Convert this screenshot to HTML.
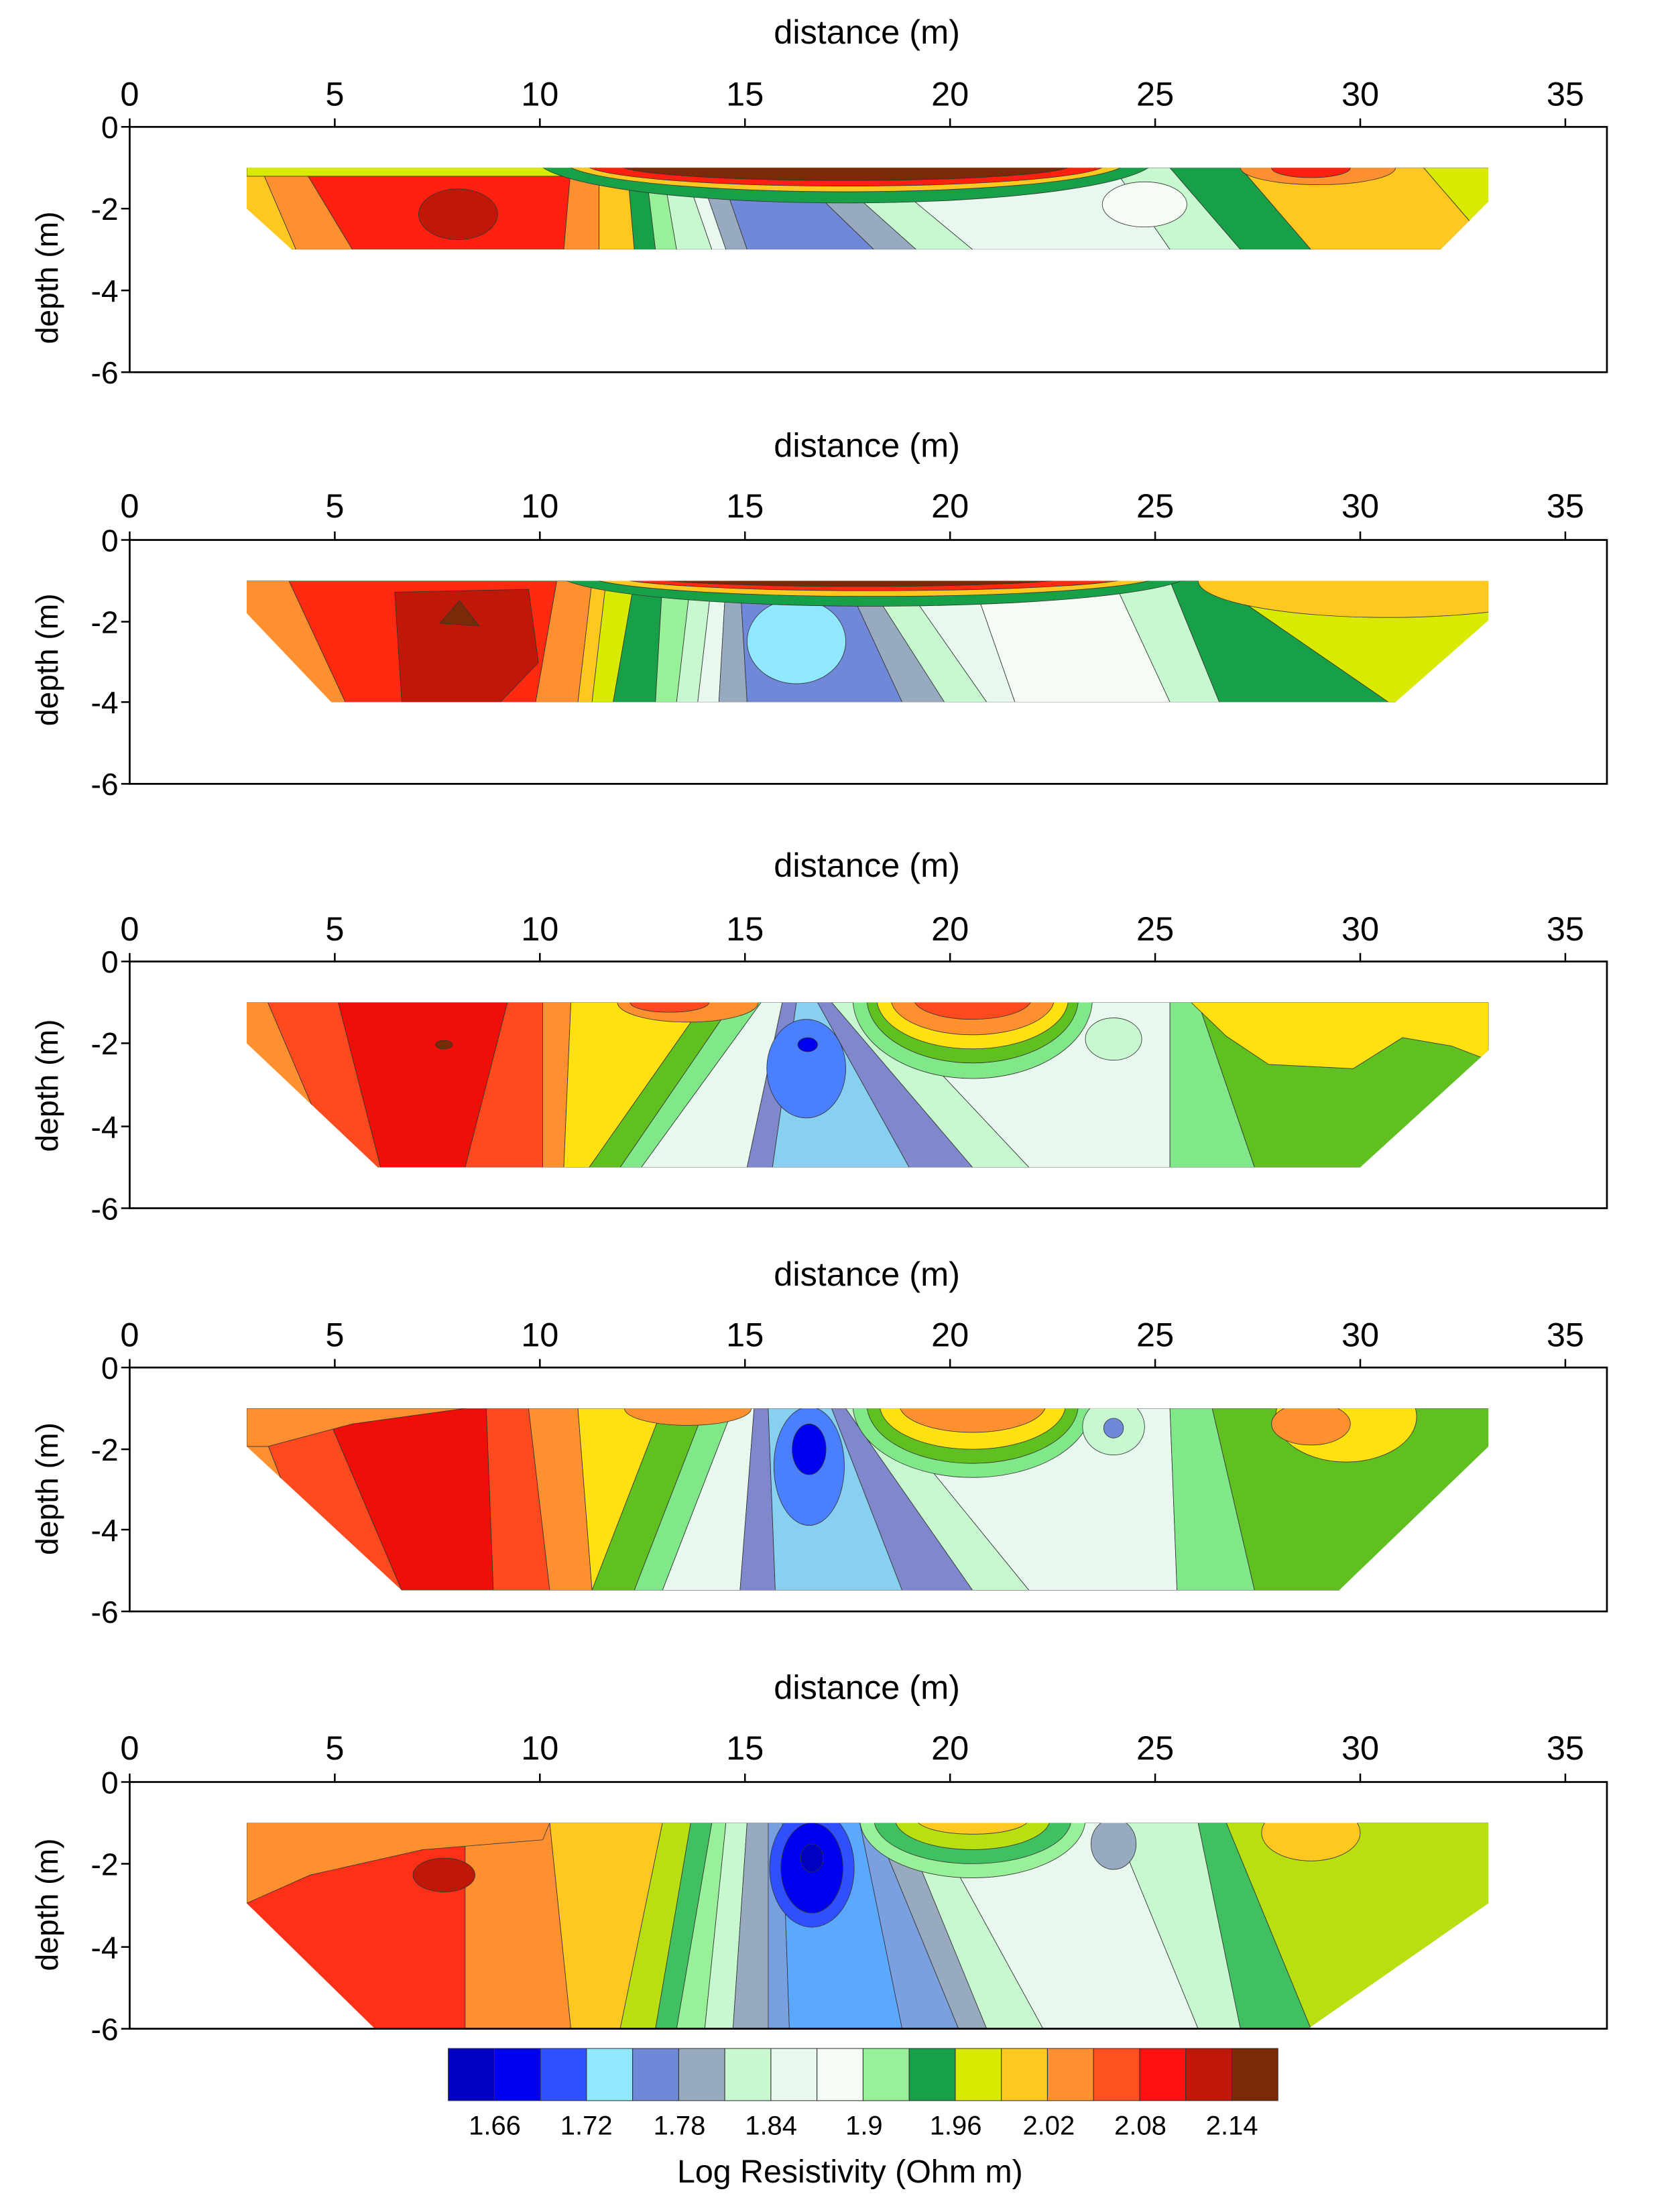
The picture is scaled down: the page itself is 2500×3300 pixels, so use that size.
<!DOCTYPE html>
<html><head><meta charset="utf-8"><style>html,body{margin:0;padding:0;background:#fff}svg{display:block}</style></head>
<body>
<svg width="2500" height="3300" viewBox="0 0 1189 1569" preserveAspectRatio="none" xmlns="http://www.w3.org/2000/svg" font-family="Liberation Sans, sans-serif">
<defs>
<clipPath id="c1"><polygon points="175,119 1056,119 1056,143 1022,177 207,177 175,148"/></clipPath>
<clipPath id="c2"><polygon points="175,412 1056,412 1056,440 990,498 235,498 175,435"/></clipPath>
<clipPath id="c3"><polygon points="175,711 1056,711 1056,745 965,828 268,828 175,740"/></clipPath>
<clipPath id="c4"><polygon points="175,999 1056,999 1056,1026 950,1128 285,1128 175,1026"/></clipPath>
<clipPath id="c5"><polygon points="175,1293 1056,1293 1056,1350 928,1439 266,1439 175,1350"/></clipPath>
</defs>
<rect width="1189" height="1569" fill="#fff"/>

<!-- Panel 1 -->
<g clip-path="url(#c1)" stroke="#333" stroke-width="0.4">
<polygon points="100,119 185,119 210,177 100,177" fill="#ffc820"/>
<polygon points="185,119 215,119 250,177 210,177" fill="#ff9030"/>
<polygon points="215,119 405,119 400,177 250,177" fill="#ff2010"/>
<polygon points="405,119 425,119 425,177 400,177" fill="#ff9030"/>
<polygon points="425,119 445,119 450,177 425,177" fill="#ffc820"/>
<polygon points="445,119 458,119 465,177 450,177" fill="#18a048"/>
<polygon points="458,119 470,119 480,177 465,177" fill="#98f098"/>
<polygon points="470,119 485,119 505,177 480,177" fill="#c8f8d0"/>
<polygon points="485,119 495,119 515,177 505,177" fill="#e8f8ee"/>
<polygon points="495,119 510,119 530,177 515,177" fill="#98aac0"/>
<polygon points="510,119 560,119 620,177 530,177" fill="#7088d8"/>
<polygon points="560,119 585,119 650,177 620,177" fill="#98aac0"/>
<polygon points="585,119 620,119 690,177 650,177" fill="#c8f8d0"/>
<polygon points="620,119 790,119 830,177 690,177" fill="#e8f8ee"/>
<polygon points="790,119 830,119 880,177 830,177" fill="#c8f8d0"/>
<polygon points="830,119 880,119 930,177 880,177" fill="#18a048"/>
<polygon points="880,119 1010,119 1060,177 930,177" fill="#ffc820"/>
<polygon points="1010,119 1100,119 1100,177 1060,177" fill="#d8ea00"/>
<rect x="175" y="117" width="260" height="8" fill="#d8ea00"/>
<ellipse cx="600" cy="112" rx="220" ry="32" fill="#18a048"/>
<ellipse cx="600" cy="114" rx="200" ry="22" fill="#ffc820"/>
<ellipse cx="600" cy="116" rx="185" ry="16" fill="#ff2010"/>
<ellipse cx="600" cy="117" rx="160" ry="11" fill="#7a2a08"/>
<ellipse cx="812" cy="145" rx="30" ry="16" fill="#f4fcf4"/>
<ellipse cx="325" cy="152" rx="28" ry="18" fill="#c01808"/>
<ellipse cx="935" cy="119" rx="55" ry="12" fill="#ff9030"/>
<ellipse cx="930" cy="119" rx="28" ry="7" fill="#ff2010"/>
</g>

<!-- Panel 2 -->
<g clip-path="url(#c2)" stroke="#333" stroke-width="0.4">
<polygon points="100,412 205,412 245,498 100,498" fill="#ff9030"/>
<polygon points="205,412 395,412 380,498 245,498" fill="#ff2a10"/>
<polygon points="395,412 420,412 410,498 380,498" fill="#ff9030"/>
<polygon points="420,412 430,412 420,498 410,498" fill="#ffc820"/>
<polygon points="430,412 450,412 435,498 420,498" fill="#d8ea00"/>
<polygon points="450,412 470,412 465,498 435,498" fill="#18a048"/>
<polygon points="470,412 490,412 480,498 465,498" fill="#98f098"/>
<polygon points="490,412 505,412 495,498 480,498" fill="#c8f8d0"/>
<polygon points="505,412 515,412 510,498 495,498" fill="#e8f8ee"/>
<polygon points="515,412 525,412 530,498 510,498" fill="#98aac0"/>
<polygon points="525,412 600,412 640,498 530,498" fill="#7088d8"/>
<polygon points="600,412 615,412 670,498 640,498" fill="#98aac0"/>
<polygon points="615,412 640,412 700,498 670,498" fill="#c8f8d0"/>
<polygon points="640,412 690,412 720,498 700,498" fill="#e8f8ee"/>
<polygon points="690,412 790,412 830,498 720,498" fill="#f4fcf4"/>
<polygon points="790,412 830,412 865,498 830,498" fill="#c8f8d0"/>
<polygon points="830,412 860,412 985,498 865,498" fill="#18a048"/>
<polygon points="860,412 1100,412 1100,498 985,498" fill="#d8ea00"/>
<ellipse cx="985" cy="412" rx="135" ry="26" fill="#ffc820"/>
<polygon points="280,420 375,418 382,470 355,498 285,498" fill="#c01808"/>
<polygon points="312,442 326,426 340,444" fill="#7a2a08"/>
<ellipse cx="565" cy="455" rx="35" ry="30" fill="#90e8ff"/>
<ellipse cx="620" cy="406" rx="225" ry="24" fill="#18a048"/>
<ellipse cx="620" cy="407" rx="205" ry="16" fill="#ffc820"/>
<ellipse cx="620" cy="408" rx="185" ry="11" fill="#ff2a10"/>
<ellipse cx="610" cy="409" rx="150" ry="7" fill="#7a2a08"/>
</g>

<!-- Panel 3 -->
<g clip-path="url(#c3)" stroke="#333" stroke-width="0.4">
<polygon points="100,711 190,711 240,828 100,828" fill="#ff9030"/>
<polygon points="190,711 240,711 270,828 240,828" fill="#ff4a20"/>
<polygon points="240,711 360,711 330,828 270,828" fill="#ee1008"/>
<polygon points="360,711 385,711 385,828 330,828" fill="#ff4a20"/>
<polygon points="385,711 405,711 400,828 385,828" fill="#ff9030"/>
<polygon points="405,711 500,711 418,828 400,828" fill="#ffe010"/>
<polygon points="500,711 520,711 440,828 418,828" fill="#60c020"/>
<polygon points="520,711 540,711 455,828 440,828" fill="#80e888"/>
<polygon points="540,711 555,711 530,828 455,828" fill="#e8f8ee"/>
<polygon points="555,711 565,711 548,828 530,828" fill="#7f88cc"/>
<polygon points="565,711 580,711 645,828 548,828" fill="#88d0f0"/>
<polygon points="580,711 590,711 690,828 645,828" fill="#7f88cc"/>
<polygon points="590,711 620,711 730,828 690,828" fill="#c8f8d0"/>
<polygon points="620,711 830,711 830,828 730,828" fill="#e8f8ee"/>
<polygon points="830,711 850,711 890,828 830,828" fill="#80e888"/>
<polygon points="850,711 1100,711 1100,828 890,828" fill="#60c020"/>
<polygon points="845,711 1056,711 1056,752 1030,742 995,736 960,758 900,755 870,735" fill="#ffe010"/>
<ellipse cx="572" cy="758" rx="28" ry="35" fill="#4a80ff"/>
<ellipse cx="573" cy="741" rx="7" ry="5" fill="#0000f0"/>
<ellipse cx="488" cy="711" rx="50" ry="14" fill="#ff9030"/>
<ellipse cx="475" cy="711" rx="28" ry="7" fill="#ff4a20"/>
<ellipse cx="690" cy="708" rx="85" ry="57" fill="#80e888"/>
<ellipse cx="690" cy="708" rx="75" ry="46" fill="#60c020"/>
<ellipse cx="690" cy="708" rx="68" ry="36" fill="#ffe010"/>
<ellipse cx="690" cy="708" rx="58" ry="26" fill="#ff9030"/>
<ellipse cx="690" cy="708" rx="42" ry="15" fill="#ff4a20"/>
<ellipse cx="790" cy="737" rx="20" ry="15" fill="#c8f8d0"/>
<ellipse cx="315" cy="741" rx="6" ry="3" fill="#7a2a08"/>
</g>

<!-- Panel 4 -->
<g clip-path="url(#c4)" stroke="#333" stroke-width="0.4">
<polygon points="100,999 180,999 230,1128 100,1128" fill="#ff9030"/>
<polygon points="180,999 230,999 285,1128 230,1128" fill="#ff4a20"/>
<polygon points="230,999 345,999 350,1128 285,1128" fill="#ee1008"/>
<polygon points="345,999 375,999 390,1128 350,1128" fill="#ff4a20"/>
<polygon points="375,999 410,999 420,1128 390,1128" fill="#ff9030"/>
<polygon points="410,999 470,999 420,1128 420,1128" fill="#ffe010"/>
<polygon points="470,999 500,999 450,1128 420,1128" fill="#60c020"/>
<polygon points="500,999 520,999 470,1128 450,1128" fill="#80e888"/>
<polygon points="520,999 535,999 525,1128 470,1128" fill="#e8f8ee"/>
<polygon points="535,999 545,999 550,1128 525,1128" fill="#7f88cc"/>
<polygon points="545,999 590,999 640,1128 550,1128" fill="#88d0f0"/>
<polygon points="590,999 600,999 690,1128 640,1128" fill="#7f88cc"/>
<polygon points="600,999 625,999 730,1128 690,1128" fill="#c8f8d0"/>
<polygon points="625,999 830,999 835,1128 730,1128" fill="#e8f8ee"/>
<polygon points="830,999 860,999 890,1128 835,1128" fill="#80e888"/>
<polygon points="860,999 1100,999 1100,1128 890,1128" fill="#60c020"/>
<polygon points="175,999 330,999 250,1010 190,1026 175,1026" fill="#ff9030"/>
<ellipse cx="955" cy="1005" rx="50" ry="32" fill="#ffe010"/>
<ellipse cx="930" cy="1010" rx="28" ry="15" fill="#ff9030"/>
<ellipse cx="574" cy="1040" rx="25" ry="42" fill="#4a80ff"/>
<ellipse cx="574" cy="1028" rx="12" ry="18" fill="#0000f0"/>
<ellipse cx="488" cy="999" rx="45" ry="12" fill="#ff9030"/>
<ellipse cx="690" cy="996" rx="85" ry="52" fill="#80e888"/>
<ellipse cx="690" cy="996" rx="75" ry="42" fill="#60c020"/>
<ellipse cx="690" cy="996" rx="66" ry="32" fill="#ffe010"/>
<ellipse cx="690" cy="996" rx="52" ry="20" fill="#ff9030"/>
<ellipse cx="790" cy="1012" rx="22" ry="20" fill="#c8f8d0"/>
<ellipse cx="790" cy="1013" rx="7" ry="7" fill="#7088d8"/>
</g>

<!-- Panel 5 -->
<g clip-path="url(#c5)" stroke="#333" stroke-width="0.4">
<polygon points="100,1293 330,1293 330,1439 100,1439" fill="#ff3018"/>
<polygon points="330,1293 390,1293 405,1439 330,1439" fill="#ff9030"/>
<polygon points="390,1293 470,1293 440,1439 405,1439" fill="#ffc820"/>
<polygon points="470,1293 490,1293 465,1439 440,1439" fill="#b8e010"/>
<polygon points="490,1293 505,1293 480,1439 465,1439" fill="#40c060"/>
<polygon points="505,1293 515,1293 500,1439 480,1439" fill="#98f098"/>
<polygon points="515,1293 530,1293 520,1439 500,1439" fill="#c8f8d0"/>
<polygon points="530,1293 545,1293 545,1439 520,1439" fill="#98aac0"/>
<polygon points="545,1293 555,1293 560,1439 545,1439" fill="#78a0e0"/>
<polygon points="555,1293 610,1293 640,1439 560,1439" fill="#5aa8ff"/>
<polygon points="610,1293 620,1293 680,1439 640,1439" fill="#7aa0e0"/>
<polygon points="620,1293 640,1293 700,1439 680,1439" fill="#98aac0"/>
<polygon points="640,1293 660,1293 740,1439 700,1439" fill="#c8f8d0"/>
<polygon points="660,1293 790,1293 850,1439 740,1439" fill="#e8f8ee"/>
<polygon points="790,1293 850,1293 880,1439 850,1439" fill="#c8f8d0"/>
<polygon points="850,1293 870,1293 930,1439 880,1439" fill="#40c060"/>
<polygon points="870,1293 1100,1293 1100,1439 930,1439" fill="#b8e010"/>
<polygon points="175,1293 390,1293 385,1305 300,1312 220,1330 175,1350" fill="#ff9030"/>
<ellipse cx="315" cy="1330" rx="22" ry="12" fill="#c01808"/>
<ellipse cx="930" cy="1300" rx="35" ry="20" fill="#ffc820"/>
<ellipse cx="576" cy="1325" rx="30" ry="42" fill="#3050ff"/>
<ellipse cx="576" cy="1325" rx="22" ry="32" fill="#0000f0"/>
<ellipse cx="576" cy="1318" rx="8" ry="10" fill="#0000c0"/>
<ellipse cx="690" cy="1290" rx="80" ry="42" fill="#98f098"/>
<ellipse cx="690" cy="1290" rx="70" ry="32" fill="#40c060"/>
<ellipse cx="690" cy="1290" rx="55" ry="22" fill="#b8e010"/>
<ellipse cx="690" cy="1290" rx="40" ry="11" fill="#ffc820"/>
<ellipse cx="790" cy="1308" rx="16" ry="18" fill="#98aac0"/>
</g>

<!-- Axes -->
<g fill="none" stroke="#000" stroke-width="1.3">
<rect x="92" y="90" width="1048" height="174"/>
<rect x="92" y="383" width="1048" height="173"/>
<rect x="92" y="682" width="1048" height="175"/>
<rect x="92" y="970" width="1048" height="173"/>
<rect x="92" y="1264" width="1048" height="175"/>
</g>
<g stroke="#000" stroke-width="1.2">
<path d="M92 90v-6M237.5 90v-6M383 90v-6M528.5 90v-6M674 90v-6M819.5 90v-6M965 90v-6M1110.5 90v-6 M92 90h-6M92 148h-6M92 206h-6M92 264h-6"/>
<path d="M92 383v-6M237.5 383v-6M383 383v-6M528.5 383v-6M674 383v-6M819.5 383v-6M965 383v-6M1110.5 383v-6 M92 383h-6M92 441h-6M92 498h-6M92 556h-6"/>
<path d="M92 682v-6M237.5 682v-6M383 682v-6M528.5 682v-6M674 682v-6M819.5 682v-6M965 682v-6M1110.5 682v-6 M92 682h-6M92 740h-6M92 799h-6M92 857h-6"/>
<path d="M92 970v-6M237.5 970v-6M383 970v-6M528.5 970v-6M674 970v-6M819.5 970v-6M965 970v-6M1110.5 970v-6 M92 970h-6M92 1028h-6M92 1085h-6M92 1143h-6"/>
<path d="M92 1264v-6M237.5 1264v-6M383 1264v-6M528.5 1264v-6M674 1264v-6M819.5 1264v-6M965 1264v-6M1110.5 1264v-6 M92 1264h-6M92 1322h-6M92 1381h-6M92 1439h-6"/>
</g>

<g font-size="24" fill="#000" text-anchor="middle">
<text x="615" y="31">distance (m)</text>
<text x="615" y="324">distance (m)</text>
<text x="615" y="622">distance (m)</text>
<text x="615" y="912">distance (m)</text>
<text x="615" y="1205">distance (m)</text>
</g>
<g font-size="24" fill="#000" text-anchor="middle">
<g transform="translate(0,75)"><text x="92">0</text><text x="237.5">5</text><text x="383">10</text><text x="528.5">15</text><text x="674">20</text><text x="819.5">25</text><text x="965">30</text><text x="1110.5">35</text></g>
<g transform="translate(0,367)"><text x="92">0</text><text x="237.5">5</text><text x="383">10</text><text x="528.5">15</text><text x="674">20</text><text x="819.5">25</text><text x="965">30</text><text x="1110.5">35</text></g>
<g transform="translate(0,667)"><text x="92">0</text><text x="237.5">5</text><text x="383">10</text><text x="528.5">15</text><text x="674">20</text><text x="819.5">25</text><text x="965">30</text><text x="1110.5">35</text></g>
<g transform="translate(0,955)"><text x="92">0</text><text x="237.5">5</text><text x="383">10</text><text x="528.5">15</text><text x="674">20</text><text x="819.5">25</text><text x="965">30</text><text x="1110.5">35</text></g>
<g transform="translate(0,1248)"><text x="92">0</text><text x="237.5">5</text><text x="383">10</text><text x="528.5">15</text><text x="674">20</text><text x="819.5">25</text><text x="965">30</text><text x="1110.5">35</text></g>
</g>
<g font-size="22" fill="#000" text-anchor="end">
<text x="84" y="98">0</text><text x="84" y="156">-2</text><text x="84" y="214">-4</text><text x="84" y="272">-6</text>
<text x="84" y="391">0</text><text x="84" y="449">-2</text><text x="84" y="506">-4</text><text x="84" y="564">-6</text>
<text x="84" y="690">0</text><text x="84" y="748">-2</text><text x="84" y="807">-4</text><text x="84" y="865">-6</text>
<text x="84" y="978">0</text><text x="84" y="1036">-2</text><text x="84" y="1093">-4</text><text x="84" y="1151">-6</text>
<text x="84" y="1272">0</text><text x="84" y="1330">-2</text><text x="84" y="1389">-4</text><text x="84" y="1447">-6</text>
</g>
<g font-size="22" fill="#000" text-anchor="middle">
<text transform="translate(41,197) rotate(-90)">depth (m)</text>
<text transform="translate(41,468) rotate(-90)">depth (m)</text>
<text transform="translate(41,770) rotate(-90)">depth (m)</text>
<text transform="translate(41,1056) rotate(-90)">depth (m)</text>
<text transform="translate(41,1351) rotate(-90)">depth (m)</text>
</g>

<!-- Colorbar -->
<g stroke="#333" stroke-width="0.5">
<rect x="318" y="1453" width="32.7" height="37" fill="#0000c0"/>
<rect x="350.7" y="1453" width="32.7" height="37" fill="#0000f0"/>
<rect x="383.4" y="1453" width="32.7" height="37" fill="#3050ff"/>
<rect x="416.1" y="1453" width="32.7" height="37" fill="#90e8ff"/>
<rect x="448.8" y="1453" width="32.7" height="37" fill="#7088d8"/>
<rect x="481.5" y="1453" width="32.7" height="37" fill="#98aac0"/>
<rect x="514.2" y="1453" width="32.7" height="37" fill="#c8f8d0"/>
<rect x="546.9" y="1453" width="32.7" height="37" fill="#e8f8ee"/>
<rect x="579.6" y="1453" width="32.7" height="37" fill="#f4fcf4"/>
<rect x="612.3" y="1453" width="32.7" height="37" fill="#98f098"/>
<rect x="645" y="1453" width="32.7" height="37" fill="#18a048"/>
<rect x="677.7" y="1453" width="32.7" height="37" fill="#d8ea00"/>
<rect x="710.4" y="1453" width="32.7" height="37" fill="#ffc820"/>
<rect x="743.1" y="1453" width="32.7" height="37" fill="#ff9030"/>
<rect x="775.8" y="1453" width="32.7" height="37" fill="#ff5020"/>
<rect x="808.5" y="1453" width="32.7" height="37" fill="#ff1010"/>
<rect x="841.2" y="1453" width="32.7" height="37" fill="#c01808"/>
<rect x="873.9" y="1453" width="32.7" height="37" fill="#7a2a08"/>
</g>
<g font-size="19" fill="#000" text-anchor="middle">
<text x="351" y="1514">1.66</text><text x="416" y="1514">1.72</text><text x="482" y="1514">1.78</text><text x="547" y="1514">1.84</text><text x="613" y="1514">1.9</text><text x="678" y="1514">1.96</text><text x="744" y="1514">2.02</text><text x="809" y="1514">2.08</text><text x="874" y="1514">2.14</text>
</g>
<text x="603" y="1548" font-size="23" text-anchor="middle" fill="#000">Log Resistivity (Ohm m)</text>
</svg>
</body></html>
